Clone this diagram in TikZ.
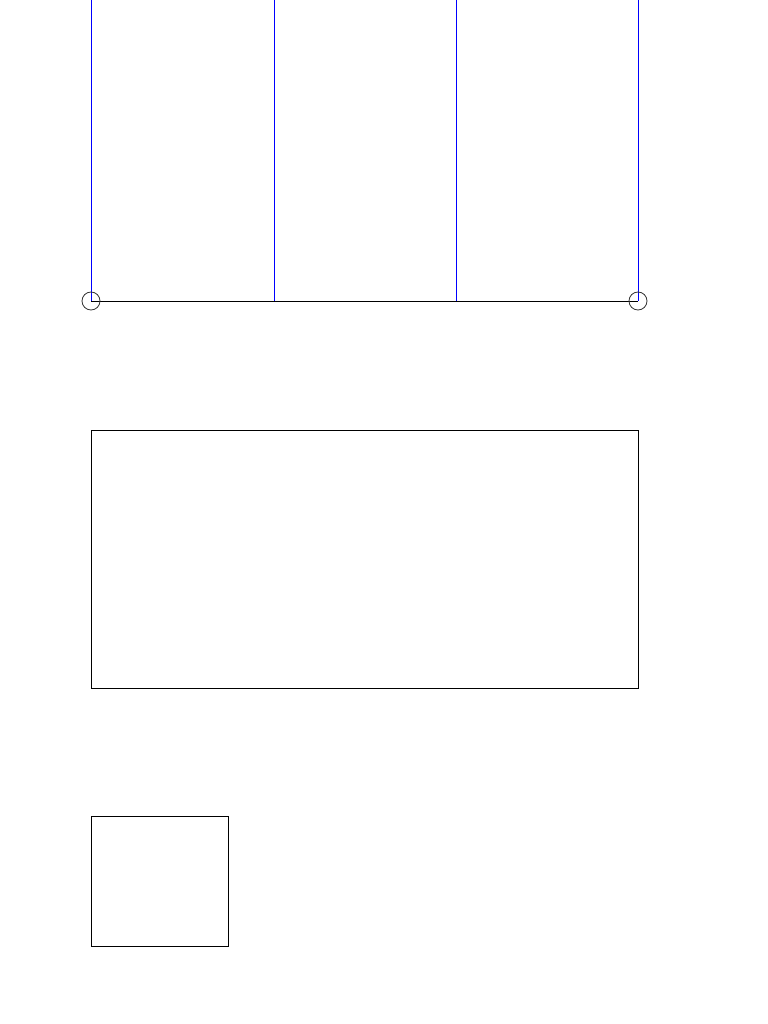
\documentclass[tikz,border=0pt]{standalone}
\usepackage{tikz}
\usetikzlibrary{calc, positioning}

\begin{document}
\begin{tikzpicture}[x=0.025cm, y=-0.025cm, line width=0.6pt,
   wall/.style = {color=blue},
   pin/.style = {draw=black!80, circle, minimum size=18*0.025cm, inner sep=0pt}]
   \useasboundingbox (0,0) rectangle (768,1024);

   % verticals
   \foreach \x/\n in {91/0, 274/1, 456/2, 638/3} {
     \coordinate (t\n) at (\x,0);
     \coordinate (b\n) at (\x,301);
   }
   \draw (b0) -- (b3);
   \foreach \n in {0,...,3}
     \draw[wall] (t\n) -- (b\n);

   % supports
   \node[pin] (pA) at (b0) {};
   \node[pin] (pB) at (b3) {};

   % boxes
   \draw (91,430) rectangle (638,688);
   \draw (91,816) rectangle (228,946);
\end{tikzpicture}
\end{document}
